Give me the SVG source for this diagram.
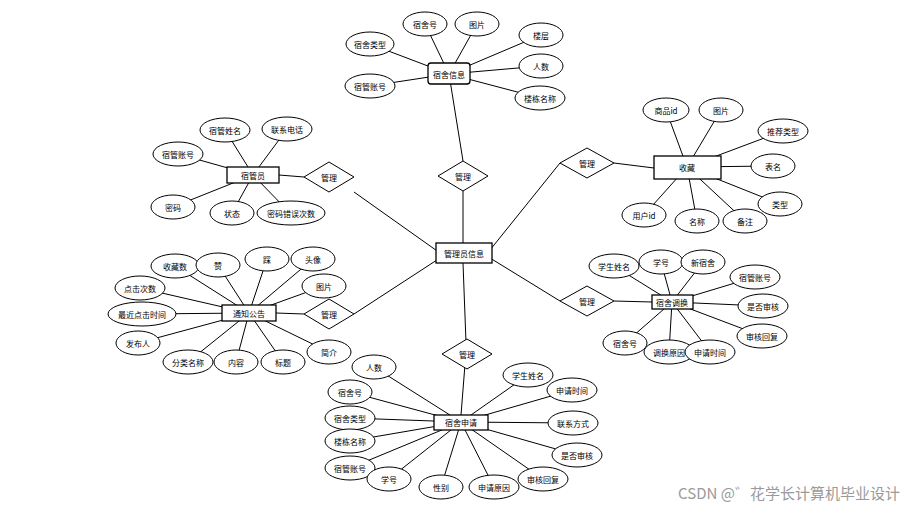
<svg xmlns="http://www.w3.org/2000/svg" width="924" height="507" viewBox="0 0 924 507">
<style>
.l{stroke:#000;stroke-width:1;fill:none}
ellipse{fill:#fff;stroke:#000;stroke-width:1}
.e{fill:#fff;stroke:#000;stroke-width:1.3}
.d{fill:#fff;stroke:#000;stroke-width:1}
text{font-family:"Noto Sans CJK SC","Liberation Sans",sans-serif;font-size:8px;text-anchor:middle;dominant-baseline:central;fill:#000}
</style>
<rect width="924" height="507" fill="#fff"/>
<g id="connectors" class="l">
<path d="M463,253L463,191M463,161L449,74M440,253L354,192M304,177L279,175M440,258L354,314M304,314L276,313M490,250L560,163M614,163L654,168M490,258L560,301M614,301L652,302M463,263L467,369M467,339L461,415"/>
<path d="M449,74L370,44M449,74L425,24M449,74L477,24M449,74L541,35M449,74L541,66M449,74L540,98M449,74L370,86"/>
<path d="M253,175L225,130M253,175L287,129M253,175L178,154M253,175L173,207M253,175L232,213M253,175L290,213"/>
<path d="M249,313L175,266M249,313L218,265M249,313L267,259M249,313L313,259M249,313L324,286M249,313L140,288M249,313L142,314M249,313L138,343M249,313L188,362M249,313L236,362M249,313L283,362M249,313L329,352"/>
<path d="M687,167L666,110M687,167L721,110M687,167L783,131M687,167L773,166M687,167L780,204M687,167L644,215M687,167L697,221M687,167L745,221"/>
<path d="M672,302L614,266M672,302L661,262M672,302L703,262M672,302L755,277M672,302L763,306M672,302L762,336M672,302L625,343M672,302L669,352M672,302L710,352"/>
<path d="M461,422L374,367M461,422L350,392M461,422L350,418M461,422L350,441M461,422L350,468M461,422L389,479M461,422L441,487M461,422L494,487M461,422L543,479M461,422L528,375M461,422L572,390M461,422L573,423M461,422L577,455"/>
</g>
<g id="center"><rect class="e" x="436" y="243" width="56" height="20"/><text x="464" y="253" font-size="9">管理员信息</text></g>
<g id="dm1"><polygon class="d" points="463,161 488,176 463,191 438,176"/><text x="463" y="176">管理</text></g>
<g id="dm2"><polygon class="d" points="329,162 354,177 329,192 304,177"/><text x="329" y="177">管理</text></g>
<g id="dm3"><polygon class="d" points="329,299 354,314 329,329 304,314"/><text x="329" y="314">管理</text></g>
<g id="dm4"><polygon class="d" points="587,148 614,163 587,178 560,163"/><text x="587" y="163">管理</text></g>
<g id="dm5"><polygon class="d" points="587,286 614,301 587,316 560,301"/><text x="587" y="301">管理</text></g>
<g id="dm6"><polygon class="d" points="467,339 492,354 467,369 442,354"/><text x="467" y="354">管理</text></g>

<g id="sushexinxi"><rect class="e" x="428" y="63" width="42" height="21" rx="3"/><text x="449" y="74">宿舍信息</text>
<ellipse cx="370" cy="44" rx="24" ry="12"/><text x="370" y="44">宿舍类型</text>
<ellipse cx="425" cy="24" rx="22" ry="12"/><text x="425" y="24">宿舍号</text>
<ellipse cx="477" cy="24" rx="22" ry="12"/><text x="477" y="24">图片</text>
<ellipse cx="541" cy="35" rx="22" ry="12"/><text x="541" y="35">楼层</text>
<ellipse cx="541" cy="66" rx="22" ry="12"/><text x="541" y="66">人数</text>
<ellipse cx="540" cy="98" rx="25" ry="12"/><text x="540" y="98">楼栋名称</text>
<ellipse cx="370" cy="86" rx="25" ry="12"/><text x="370" y="86">宿管账号</text></g>

<g id="suguanyuan"><rect class="e" x="227" y="167" width="52" height="16"/><text x="253" y="175">宿管员</text>
<ellipse cx="225" cy="130" rx="25" ry="12"/><text x="225" y="130">宿管姓名</text>
<ellipse cx="287" cy="129" rx="25" ry="12"/><text x="287" y="129">联系电话</text>
<ellipse cx="178" cy="154" rx="25" ry="12"/><text x="178" y="154">宿管账号</text>
<ellipse cx="173" cy="207" rx="22" ry="12"/><text x="173" y="207">密码</text>
<ellipse cx="232" cy="213" rx="22" ry="12"/><text x="232" y="213">状态</text>
<ellipse cx="291" cy="213" rx="34" ry="12"/><text x="291" y="213">密码错误次数</text></g>

<g id="tongzhi"><rect class="e" x="222" y="305" width="54" height="16"/><text x="249" y="313">通知公告</text>
<ellipse cx="175" cy="266" rx="24" ry="12"/><text x="175" y="266">收藏数</text>
<ellipse cx="218" cy="265" rx="22" ry="12"/><text x="218" y="265">赞</text>
<ellipse cx="267" cy="259" rx="22" ry="12"/><text x="267" y="259">踩</text>
<ellipse cx="313" cy="259" rx="22" ry="12"/><text x="313" y="259">头像</text>
<ellipse cx="324" cy="286" rx="22" ry="12"/><text x="324" y="286">图片</text>
<ellipse cx="140" cy="288" rx="25" ry="12"/><text x="140" y="288">点击次数</text>
<ellipse cx="142" cy="314" rx="34" ry="12"/><text x="142" y="314">最近点击时间</text>
<ellipse cx="138" cy="343" rx="22" ry="12"/><text x="138" y="343">发布人</text>
<ellipse cx="188" cy="362" rx="25" ry="12"/><text x="188" y="362">分类名称</text>
<ellipse cx="236" cy="362" rx="22" ry="12"/><text x="236" y="362">内容</text>
<ellipse cx="283" cy="362" rx="22" ry="12"/><text x="283" y="362">标题</text>
<ellipse cx="329" cy="352" rx="22" ry="12"/><text x="329" y="352">简介</text></g>

<g id="shoucang"><rect class="e" x="654" y="156" width="67" height="23"/><text x="687" y="167">收藏</text>
<ellipse cx="666" cy="110" rx="23" ry="12"/><text x="666" y="110">商品id</text>
<ellipse cx="721" cy="110" rx="22" ry="12"/><text x="721" y="110">图片</text>
<ellipse cx="783" cy="131" rx="25" ry="12"/><text x="783" y="131">推荐类型</text>
<ellipse cx="773" cy="166" rx="22" ry="12"/><text x="773" y="166">表名</text>
<ellipse cx="780" cy="204" rx="22" ry="12"/><text x="780" y="204">类型</text>
<ellipse cx="644" cy="215" rx="22" ry="12"/><text x="644" y="215">用户id</text>
<ellipse cx="697" cy="221" rx="22" ry="12"/><text x="697" y="221">名称</text>
<ellipse cx="745" cy="221" rx="22" ry="12"/><text x="745" y="221">备注</text></g>

<g id="tiaohuan"><rect class="e" x="652" y="295" width="41" height="14"/><text x="672" y="302">宿舍调换</text>
<ellipse cx="614" cy="266" rx="25" ry="12"/><text x="614" y="266">学生姓名</text>
<ellipse cx="661" cy="262" rx="22" ry="12"/><text x="661" y="262">学号</text>
<ellipse cx="703" cy="262" rx="22" ry="12"/><text x="703" y="262">新宿舍</text>
<ellipse cx="755" cy="277" rx="25" ry="12"/><text x="755" y="277">宿管账号</text>
<ellipse cx="763" cy="306" rx="25" ry="12"/><text x="763" y="306">是否审核</text>
<ellipse cx="762" cy="336" rx="25" ry="12"/><text x="762" y="336">审核回复</text>
<ellipse cx="625" cy="343" rx="22" ry="12"/><text x="625" y="343">宿舍号</text>
<ellipse cx="669" cy="352" rx="25" ry="12"/><text x="669" y="352">调换原因</text>
<ellipse cx="710" cy="352" rx="25" ry="12"/><text x="710" y="352">申请时间</text></g>

<g id="shenqing"><rect class="e" x="434" y="415" width="54" height="15"/><text x="461" y="422">宿舍申请</text>
<ellipse cx="374" cy="367" rx="22" ry="12"/><text x="374" y="367">人数</text>
<ellipse cx="350" cy="392" rx="22" ry="12"/><text x="350" y="392">宿舍号</text>
<ellipse cx="350" cy="418" rx="25" ry="12"/><text x="350" y="418">宿舍类型</text>
<ellipse cx="350" cy="441" rx="25" ry="12"/><text x="350" y="441">楼栋名称</text>
<ellipse cx="350" cy="468" rx="25" ry="12"/><text x="350" y="468">宿管账号</text>
<ellipse cx="389" cy="479" rx="22" ry="12"/><text x="389" y="479">学号</text>
<ellipse cx="441" cy="487" rx="22" ry="12"/><text x="441" y="487">性别</text>
<ellipse cx="494" cy="487" rx="25" ry="12"/><text x="494" y="487">申请原因</text>
<ellipse cx="543" cy="479" rx="25" ry="12"/><text x="543" y="479">审核回复</text>
<ellipse cx="528" cy="375" rx="25" ry="12"/><text x="528" y="375">学生姓名</text>
<ellipse cx="572" cy="390" rx="25" ry="12"/><text x="572" y="390">申请时间</text>
<ellipse cx="573" cy="423" rx="25" ry="12"/><text x="573" y="423">联系方式</text>
<ellipse cx="577" cy="455" rx="25" ry="12"/><text x="577" y="455">是否审核</text></g>

<text x="789" y="492" style="font-size:15px;fill:#9a9a9a">CSDN @゛花学长计算机毕业设计</text>
</svg>
